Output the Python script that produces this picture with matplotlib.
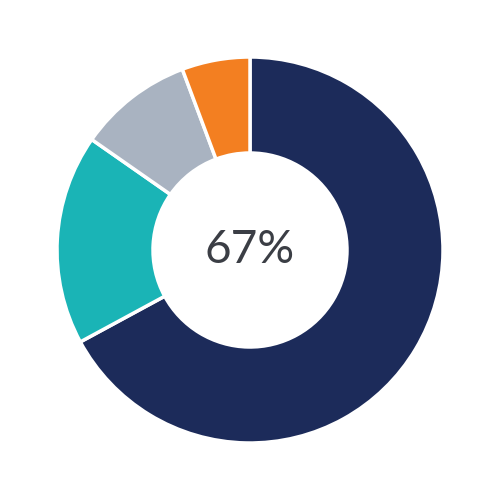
import matplotlib
import matplotlib.pyplot as plt

matplotlib.use("agg")

labels = ["Navy", "Teal", "Gray", "Orange"]
values = [67.1, 17.6, 9.6, 5.7]
colors = ["#1c2b5a", "#1ab4b6", "#a9b3c1", "#f37f21"]
center_label = "67%"

fig = plt.figure(figsize=(5, 5), dpi=100)
ax = fig.add_axes([0, 0, 1, 1])

ax.pie(values, colors=colors, startangle=90, counterclock=False, radius=0.772,
       wedgeprops=dict(width=0.384, edgecolor="white", linewidth=2.5))

ax.text(0, 0, center_label, ha="center", va="center", fontsize=33,
        family=["Lato", "DejaVu Sans"], fontweight="normal", color="#3b3e45")

ax.set_xlim(-1, 1)
ax.set_ylim(-1, 1)
ax.set_aspect("equal")
ax.axis("off")

plt.savefig("out.png", dpi=100, facecolor="white")
